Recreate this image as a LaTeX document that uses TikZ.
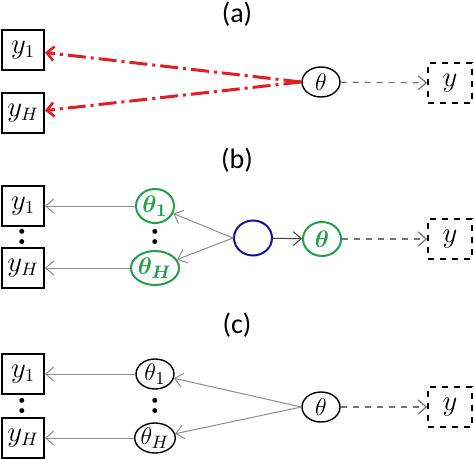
\documentclass[tikz,border=0pt]{standalone}
\usepackage[no-math]{fontspec}
\newfontfamily\capfont{Carlito}
\usepackage{amsmath}
\usepackage{bm}
\usetikzlibrary{arrows.meta,shapes.geometric}

\definecolor{myred}{RGB}{225,30,35}
\definecolor{mygreen}{RGB}{35,160,75}
\definecolor{myblue}{RGB}{20,20,150}

\begin{document}
\begin{tikzpicture}[x=0.5pt, y=-0.5pt,
	obs/.style={draw, line width=1pt, minimum width=21pt, minimum height=20pt, inner sep=0pt, font=\fontsize{13.5}{15}\selectfont},
	tgt/.style={obs, dashed, line width=0.9pt, minimum width=22pt},
	par/.style={ellipse, draw, line width=0.7pt, minimum width=19pt, minimum height=15pt, inner sep=0pt, font=\fontsize{13}{15}\selectfont},
	gpar/.style={par, draw=mygreen, text=mygreen, line width=1pt, minimum height=17pt},
	mix/.style={par, draw=myblue, line width=1pt, minimum height=17.5pt},
	lbl/.style={font=\capfont\fontsize{14}{16}\selectfont},
	dots/.style={inner sep=0pt, font=\fontsize{17}{17}\selectfont\bfseries},
	tip/.style={-{Straight Barb[length=4pt,width=7pt]}},
	link/.style={tip, draw=gray!90, line width=0.5pt},
	pred/.style={tip, draw=gray!110, line width=0.6pt, dashed},
	red/.style={draw=myred, line width=1.5pt, dash pattern=on 9pt off 2.5pt on 1.5pt off 2.5pt, -{Straight Barb[length=3.5pt,width=7pt,line width=1.3pt]}}]
	\useasboundingbox (0,0) rectangle (474,459);

	% (a)
	\node [lbl]	(capa)	at (237,14)	{(a)};
	\node [obs]	(y1a)	at (23,50)	{$y_1$};
	\node [obs]	(yHa)	at (23,113)	{$y_H$};
	\node [par]	(tha)	at (321,82)	{$\theta$};
	\node [tgt]	(ya)	at (450,83)	{$y$};
	\draw (tha.west) edge [red] (y1a) edge [red] (yHa);
	\draw (tha) edge [pred] (ya);

	% (b)
	\node [lbl]	(capb)	at (237,160)	{(b)};
	\node [obs]	(y1b)	at (23,206)	{$y_1$};
	\node [obs]	(yHb)	at (23,268)	{$y_H$};
	\node [dots]	(dyb)	at (22,237)	{:};
	\node [gpar]	(th1b)	at (155,206)	{$\bm{\theta_1}$}
		edge [link]	(y1b);
	\node [gpar]	(thHb)	at (155,268)	{$\bm{\theta_H}$}
		edge [link]	(yHb);
	\node [dots]	(dthb)	at (155,237)	{:};
	\node [mix]	(mixb)	at (253,238)	{};
	\node [gpar]	(thb)	at (322,239)	{$\bm{\theta}$};
	\node [tgt]	(yb)	at (450,239)	{$y$};
	\draw (mixb.west) edge [link] (th1b) edge [link] (thHb);
	\draw (mixb) edge [link, draw=black!75] (thb);
	\draw (thb) edge [pred] (yb);

	% (c)
	\node [lbl]	(capc)	at (237,325)	{(c)};
	\node [obs]	(y1c)	at (23,374)	{$y_1$};
	\node [obs]	(yHc)	at (23,438)	{$y_H$};
	\node [dots]	(dyc)	at (22,406)	{:};
	\node [par]	(th1c)	at (155,374)	{$\theta_1$}
		edge [link]	(y1c);
	\node [par]	(thHc)	at (155,438)	{$\theta_H$}
		edge [link]	(yHc);
	\node [dots]	(dthc)	at (155,406)	{:};
	\node [par]	(thc)	at (321,407)	{$\theta$};
	\node [tgt]	(yc)	at (450,407)	{$y$};
	\draw (thc.west) edge [link] (th1c) edge [link] (thHc);
	\draw (thc) edge [pred] (yc);
\end{tikzpicture}
\end{document}
